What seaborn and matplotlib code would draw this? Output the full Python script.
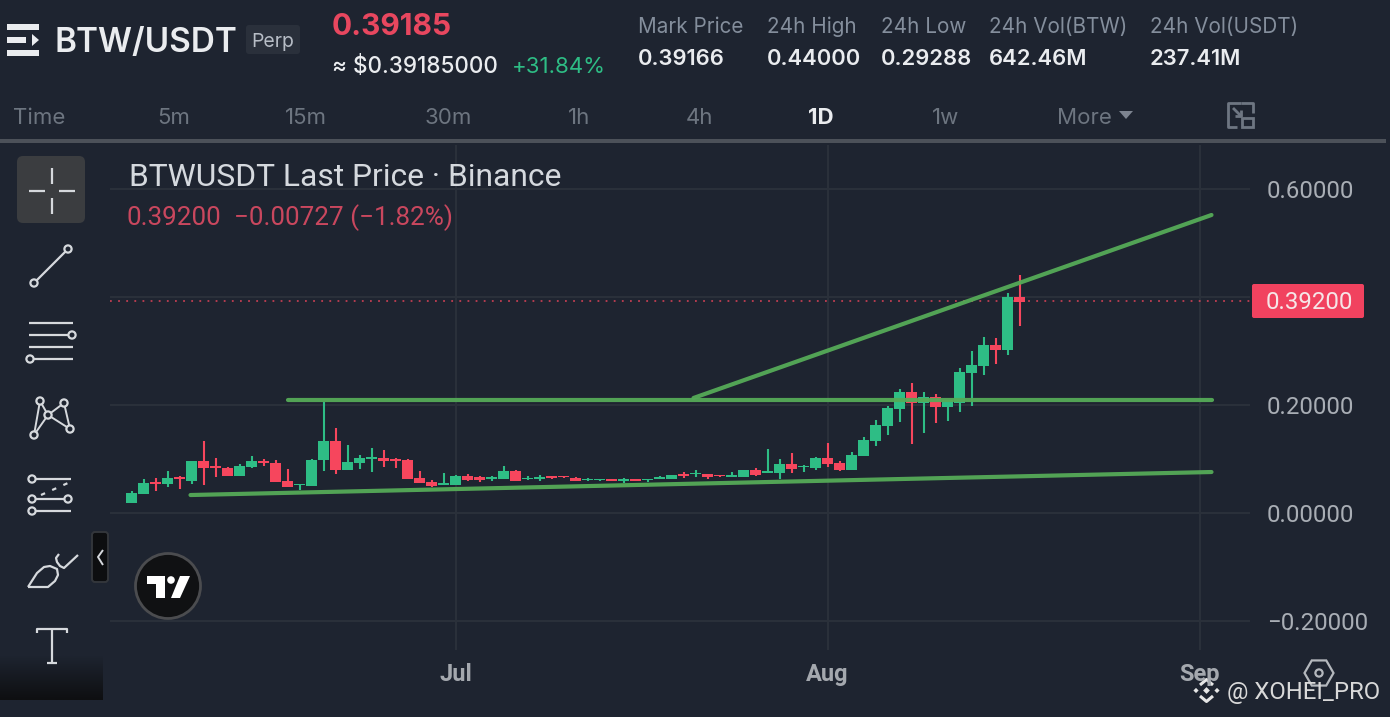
import pandas as pd
import numpy as np
import seaborn as sns
import matplotlib.pyplot as plt
import matplotlib.dates as mdates
from matplotlib.patches import Circle, FancyBboxPatch, Polygon, Rectangle

# daily candles, 4 Jun -> 17 Aug
opens = [.0191, .0352, .0580, .0531, .0673, .0593, .0963, .0870, .0833, .0685, .0846, .0963, .0932, .0593, .0512,
         .0500, .0981, .1333, .0796, .0932, .1006, .1019, .1006, .0981, .0648, .0574, .0525, .0525, .0685, .0660,
         .0630, .0636, .0784, .0623, .0623, .0679, .0679, .0648, .0605, .0605, .0630, .0599, .0630, .0605, .0636,
         .0630, .0722, .0716, .0716, .0704, .0673, .0667, .0796, .0747, .0747, .0907, .0852, .0833, .1012, .0920,
         .0796, .1062, .1333, .1617, .1926, .2241, .2043, .2142, .1969, .2043, .2599, .2722, .3111, .3019, .3994]
closes = [.0364, .0549, .0537, .0642, .0636, .0963, .0840, .0833, .0685, .0864, .0957, .0920, .0574, .0488, .0525,
          .0981, .1333, .0796, .0944, .1019, .1037, .0957, .0969, .0636, .0556, .0506, .0549, .0685, .0611, .0605,
          .0660, .0778, .0593, .0642, .0660, .0654, .0660, .0599, .0623, .0623, .0593, .0623, .0599, .0623, .0660,
          .0704, .0685, .0741, .0660, .0679, .0704, .0796, .0704, .0772, .0907, .0809, .0877, .1019, .0907, .0796,
          .1074, .1352, .1630, .1944, .2241, .2043, .2142, .1969, .2093, .2611, .2735, .3105, .3019, .4006, .3913]
highs = [.0407, .0630, .0642, .0784, .0685, .0963, .1333, .1025, .0846, .0907, .1056, .1006, .0981, .0821, .0537,
         .1000, .2062, .1574, .1253, .1080, .1198, .1167, .1025, .0994, .0778, .0611, .0741, .0710, .0716, .0685,
         .0691, .0870, .0796, .0685, .0698, .0685, .0691, .0673, .0648, .0623, .0630, .0654, .0630, .0623, .0691,
         .0710, .0753, .0796, .0716, .0704, .0759, .0802, .0833, .1185, .0994, .1111, .0889, .1043, .1302, .0963,
         .1123, .1401, .1722, .1981, .2296, .2407, .2235, .2198, .2093, .2679, .3000, .3253, .3235, .4068, .4407]
lows = [.0191, .0352, .0414, .0488, .0444, .0537, .0519, .0660, .0685, .0685, .0833, .0870, .0574, .0488, .0426,
        .0500, .0784, .0722, .0796, .0809, .0765, .0846, .0833, .0636, .0556, .0488, .0525, .0525, .0593, .0568,
        .0586, .0636, .0593, .0611, .0586, .0636, .0642, .0586, .0586, .0599, .0586, .0562, .0599, .0574, .0623,
        .0630, .0648, .0667, .0630, .0673, .0660, .0667, .0685, .0747, .0630, .0747, .0765, .0796, .0858, .0784,
        .0796, .1062, .1241, .1444, .1679, .1278, .1475, .1667, .1698, .1870, .1988, .2556, .2759, .2926, .3463]
first_day = "2025-06-04"

# hand drawn trend lines: name, start, end
trend_names = ["resistance", "rising", "support"]
trend_starts = ["2025-06-17 00:00", "2025-07-20 20:00", "2025-06-08 22:00"]
trend_ends = ["2025-09-02 00:00", "2025-09-02 00:00", "2025-09-02 00:00"]
trend_from = [.2093, .2130, .0333]
trend_to = [.2093, .5519, .0759]

last_price = 0.392
y_ticks = [-0.2, 0.0, 0.2, 0.4, 0.6]
y_labels = ["\u22120.20000", "0.00000", "0.20000", "", "0.60000"]

BG = "#1e2430"
GRID = "#2a303a"
UP = "#2ebd85"
DOWN = "#f6465d"
TREND = "#55ab58"
ICON = "#d6d9dd"
MUTED = "#848e9c"
WHITE = "#eaecef"

sns.set_theme(style="dark", rc={"axes.facecolor": "none", "figure.facecolor": BG})
plt.rcParams["font.family"] = ["Roboto", "DejaVu Sans"]

df = pd.DataFrame({"open": opens, "close": closes, "high": highs, "low": lows})
df["date"] = pd.date_range(first_day, periods=len(df), freq="D")
df["dir"] = np.where(df["close"] >= df["open"], "up", "down")
wicks = df.melt(id_vars=["date", "dir"], value_vars=["high", "low"], value_name="price")
trends = pd.DataFrame({"name": trend_names * 2,
                       "date": pd.to_datetime(trend_starts + trend_ends),
                       "price": trend_from + trend_to})

fig = plt.figure(figsize=(13.9, 7.17), dpi=100)

# overlay in pixel coords for all the app chrome
ui = fig.add_axes([0, 0, 1, 1], zorder=1)
ax = fig.add_axes([110 / 1390, 1 - 650 / 717, 1140 / 1390, 505 / 717], zorder=2)

# chart
palette = {"up": UP, "down": DOWN}
sns.lineplot(data=wicks, x="date", y="price", hue="dir", palette=palette, units="date", estimator=None,
             lw=1.5, legend=False, ax=ax, solid_capstyle="butt", zorder=3)
ax.bar(df["date"], (df["close"] - df["open"]).abs().clip(lower=0.002), bottom=df[["open", "close"]].min(axis=1),
       width=0.88, color=df["dir"].map(palette), edgecolor="none", linewidth=0, zorder=4)
sns.lineplot(data=trends, x="date", y="price", units="name", estimator=None, color=TREND, lw=3,
             legend=False, ax=ax, zorder=5, alpha=0.95)
ax.axhline(last_price, color=DOWN, lw=1.3, ls=(0, (1, 3.5)), alpha=0.75, zorder=2)

ax.set_xlim(pd.Timestamp("2025-06-04") - pd.Timedelta(hours=43), pd.Timestamp("2025-06-04") + pd.Timedelta(hours=2237))
ax.set_ylim(-0.2537, 0.6815)
ax.xaxis.set_major_locator(mdates.MonthLocator())
ax.xaxis.set_major_formatter(mdates.DateFormatter("%b"))
ax.set_yticks(y_ticks, y_labels)
ax.yaxis.tick_right()
ax.set_xlabel("")
ax.set_ylabel("")
ax.grid(True, color=GRID, lw=1.5)
ax.tick_params(axis="x", length=0, pad=9.5, labelcolor="#a4a8ae", labelsize=17)
ax.tick_params(axis="y", length=0, pad=12.2, labelcolor="#a9aeb5", labelsize=17.3)
for lab in ax.get_xticklabels():
    lab.set_fontweight("bold")
for s in ax.spines.values():
    s.set_visible(False)

# ui layer
ui.set_facecolor(BG)
ui.imshow(np.linspace(0, 1, 40).reshape(-1, 1), extent=(0, 103, 700, 655), aspect="auto",
          cmap=plt.matplotlib.colors.LinearSegmentedColormap.from_list("fade", ["#1e2430", "#0e0f11"]))
ui.set_xlim(0, 1390)
ui.set_ylim(717, 0)
ui.axis("off")
ui.patch.set_visible(True)


# fig.text so the labels stay on top of the chart axes
def txt(x, y, s, color=WHITE, size=15, weight="normal", ha="left", family="Inter"):
    fig.text(x / 1390, 1 - y / 717, s, color=color, fontsize=size, fontweight=weight, ha=ha, va="center",
             family=[family, "DejaVu Sans"], zorder=6)


def seg(xs, ys, color=ICON, lw=1.6):
    ui.plot(xs, ys, color=color, lw=lw, solid_capstyle="butt", zorder=5)


def ring(x, y, r=3.6, color=ICON):
    ui.add_patch(Circle((x, y), r, fc=BG, ec=color, lw=1.6, zorder=6))


# header
ui.add_patch(Rectangle((7, 24), 32, 6, color=WHITE, lw=0))
ui.add_patch(Rectangle((7, 37), 19, 6, color=WHITE, lw=0))
ui.add_patch(Rectangle((7, 50), 32, 6, color=WHITE, lw=0))
ui.add_patch(Polygon([(32, 34), (39, 40), (32, 46)], color=WHITE, lw=0))
txt(55, 43, "BTW/USDT", size=24, weight="semibold")
ui.add_patch(FancyBboxPatch((249, 28), 48, 23, boxstyle="round,pad=3", color="#2a303b", lw=0))
txt(273, 42, "Perp", color="#b7bdc6", size=14, ha="center")
txt(332, 27, "0.39185", color="#e8475f", size=21.5, weight="bold")
txt(332, 67, "\u2248 $0.39185000", size=16.2, weight="medium")
txt(512, 67, "+31.84%", color=UP, size=16)
stats = [(638, "Mark Price", "0.39166"), (767, "24h High", "0.44000"), (881, "24h Low", "0.29288"),
         (989, "24h Vol(BTW)", "642.46M"), (1150, "24h Vol(USDT)", "237.41M")]
for x, head, val in stats:
    txt(x, 27, head, color=MUTED, size=14.9)
    txt(x, 59, val, size=15.8, weight="semibold")

# interval tabs
tabs = [(13, "Time"), (157, "5m"), (285, "15m"), (425, "30m"), (568, "1h"), (686, "4h"), (932, "1w"), (1057, "More")]
for x, s in tabs:
    txt(x, 118, s, color="#6d7580", size=16)
txt(808, 118, "1D", color=WHITE, size=16, weight="bold")
ui.add_patch(Polygon([(1119, 111), (1133, 111), (1126, 119)], color="#7d8490", lw=0))
ui.add_patch(Rectangle((0, 139), 1386, 4, color="#4c5159", lw=0))
# expand icon
seg([1241, 1228, 1228, 1237], [103, 103, 127, 127], color="#6e7682", lw=2)
seg([1241, 1253, 1253], [103, 103, 113], color="#6e7682", lw=2)
seg([1233, 1241], [108, 116], color="#6e7682", lw=2)
seg([1241, 1241, 1235], [110, 116, 116], color="#6e7682", lw=2)
ui.add_patch(Rectangle((1242, 118), 11, 9, fc="none", ec="#6e7682", lw=2))

# chart legend
txt(129, 177, "BTWUSDT Last Price \u00b7 Binance", color="#d5d9de", size=22.85, family="Roboto")
txt(127, 218, "0.39200", color="#c9475e", size=18.7, family="Roboto")
txt(234, 218, "\u22120.00727 (\u22121.82%)", color="#c9475e", size=18.7, family="Roboto")

# last price tag
ui.add_patch(FancyBboxPatch((1254, 286), 108, 30, boxstyle="round,pad=2", color="#f1425f", lw=0, zorder=5))
txt(1266, 302.5, "0.39200", color="#f6e6e8", size=17.3, family="Roboto")

# toolbar
ui.add_patch(FancyBboxPatch((23, 162), 56, 55, boxstyle="round,pad=6", color="#3b3d40", lw=0))
seg([29, 45], [191, 191])
seg([59, 75], [191, 191])
seg([52, 52], [168, 184])
seg([52, 52], [198, 214])

seg([34, 68], [283, 249])
ring(34, 283)
ring(68, 249)

seg([29, 73], [323, 323])
seg([29, 70], [335, 335])
seg([29, 73], [347, 347])
seg([32, 73], [359, 359])
ring(72, 335)
ring(30, 359)

nodes = {"a": (40, 401), "b": (64, 403), "c": (48, 415), "d": (34, 435), "e": (70, 429)}
for p, q in ["ad", "ac", "cd", "cb", "ce", "be"]:
    seg([nodes[p][0], nodes[q][0]], [nodes[p][1], nodes[q][1]], lw=1.4)
for n in nodes.values():
    ring(*n)

seg([34, 71], [479, 479])
seg([34, 68], [499, 499])
seg([34, 71], [511, 511])
ui.plot([41, 68], [495, 483], color=ICON, lw=1.6, ls=(0, (2, 3.5)), zorder=5)
ring(32, 479)
ring(32, 499)
ring(68, 499)
ring(32, 511)

seg([28, 37, 44, 50, 57, 58, 55, 48, 28, 28], [587, 573, 567, 566, 569, 575, 581, 587, 587, 587])
seg([59, 56, 57, 60, 64, 78], [554, 558, 562, 566, 568, 555])

seg([37, 37, 67, 67], [633, 629, 629, 633])
seg([52, 52], [629, 663])
seg([47, 57], [663, 663])

ui.add_patch(FancyBboxPatch((95, 535), 10, 44, boxstyle="round,pad=3", fc="#0d0e10", ec="#33363b", lw=1.4))
seg([103, 98, 103], [550, 557, 565], lw=1.4)

# tradingview badge
ui.add_patch(Circle((168, 586), 32.5, fc="#101113", ec="#4b4c4f", lw=2, zorder=6))
ui.add_patch(Polygon([(147, 576), (165, 576), (165, 598), (156, 598), (156, 584), (147, 584)], color="white", lw=0, zorder=7))
ui.add_patch(Circle((171, 580), 3.8, color="white", lw=0, zorder=7))
ui.add_patch(Polygon([(180, 576), (190, 576), (180, 598), (171, 598)], color="white", lw=0, zorder=7))

# bottom right stuff
hexa = [(1319 + 14.5 * np.cos(a), 673 + 14.5 * np.sin(a)) for a in np.radians(np.arange(0, 360, 60))]
ui.add_patch(Polygon(hexa, closed=True, fc="none", ec="#b4b8bd", lw=1.6, zorder=6))
ui.add_patch(Circle((1319, 673), 3.6, fc="none", ec="#b4b8bd", lw=1.6, zorder=6))
cx, cy = 1206.5, 690.5
for dx, r in [(0, 3.4), (-10.5, 2.6), (10.5, 2.6)]:
    ui.add_patch(Polygon([(cx + dx - r, cy), (cx + dx, cy - r), (cx + dx + r, cy), (cx + dx, cy + r)], color="#e6e6e6", lw=0, zorder=7))
seg([cx - 6.5, cx, cx + 6.5], [cy - 5.5, cy - 11, cy - 5.5], color="#e6e6e6", lw=2.2)
seg([cx - 6.5, cx, cx + 6.5], [cy + 5.5, cy + 11, cy + 5.5], color="#e6e6e6", lw=2.2)
txt(1227, 692, "@ XOHEI_PRO", color="#d9d9d9", size=17.2, family="Roboto")

fig.savefig("out.png", dpi=100, facecolor=BG)
